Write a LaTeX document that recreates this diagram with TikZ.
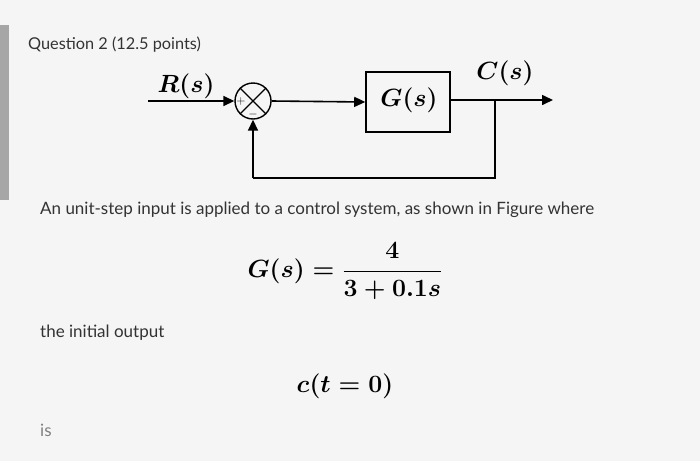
\documentclass[tikz,border=0pt]{standalone}
\usepackage{fontspec}
\usepackage{amsmath}
\setsansfont{Lato}
\usetikzlibrary{arrows.meta}
\begin{document}
\begin{tikzpicture}[x=1pt,y=-1pt,
  txt/.style={font=\sffamily\fontsize{17}{20}\selectfont,text=black!80,anchor=west,inner sep=0},
  mth/.style={font=\fontsize{26}{30}\selectfont\boldmath,inner sep=0},
  sig/.style={line width=1.6pt,-{Triangle[length=11pt,width=10pt]}},
  ln/.style={line width=1.6pt}]
\useasboundingbox (0,0) rectangle (700,461);
\fill[black!4] (0,0) rectangle (700,461);
\fill[black!35] (0,25) rectangle (9,200);
\node[txt,font=\sffamily\fontsize{16.3}{19}\selectfont] (q) at (28,45) {Question 2 (12.5 points)};
\coordinate (in) at (148,101);
\node[mth] (R) at (186,86) {$R(s)$};
\node[draw,circle,line width=1.4pt,minimum size=36pt,inner sep=0] (sum) at (253,101) {};
\draw[line width=1.3pt] (sum.north west) -- (sum.south east) (sum.north east) -- (sum.south west);
\node[font=\fontsize{12}{13}\selectfont,inner sep=0] (plus) at (241,101) {$+$};
\node[font=\fontsize{12}{13}\selectfont,inner sep=0] (minus) at (253,114) {$-$};
\node[draw,line width=1.6pt,minimum width=84pt,minimum height=60pt,inner sep=0] (G) at (408,102) {};
\node[mth] (Gl) at (409,100) {$G(s)$};
\coordinate (out) at (553,100);
\coordinate (br) at (495,100);
\coordinate (bd) at (495,178);
\coordinate (bl) at (253,178);
\node[mth] (C) at (505,73) {$C(s)$};
\draw[sig] (in) -- (sum.west);
\draw[sig] (sum.east) -- (G.west);
\draw[sig] (G.east |- out) -- (out);
\draw[ln] (br) -- (bd) -- (bl);
\draw[sig] (bl) -- (sum.south);
\node[txt] (t1) at (40,210) {An unit-step input is applied to a control system, as shown in Figure where};
\node[font=\fontsize{25}{30}\selectfont\boldmath,inner sep=0] (eq) at (345,271) {$G(s)=\dfrac{4}{3+0.1s}$};
\node[txt] (t2) at (40,333) {the initial output};
\node[font=\fontsize{26}{30}\selectfont\boldmath,inner sep=0] (c0) at (345,386) {$c(t=0)$};
\node[txt,text=black!50] (t3) at (40,430) {is};
\end{tikzpicture}
\end{document}
